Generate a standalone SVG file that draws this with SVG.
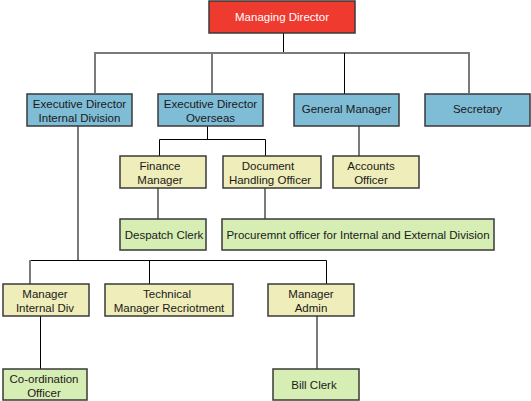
<svg xmlns="http://www.w3.org/2000/svg" width="531" height="401" viewBox="0 0 531 401">
<style>
rect{stroke:#3a3a3a;stroke-width:1.5}
.red{fill:#ee3a2f}
.blue{fill:#7fbcd6}
.yel{fill:#efedb9}
.grn{fill:#d6edb3}
text{font-family:"Liberation Sans",Arial,sans-serif;font-size:11.5px;fill:#1a1a1a;text-anchor:middle}
.w{fill:#ffffff}
.g{stroke:#7a7a7a;stroke-width:2;fill:none}
.k{stroke:#000;stroke-width:1;fill:none}
</style>
<rect x="0" y="0" width="531" height="401" style="fill:#fff;stroke:none"/>
<g id="connectors">
<path class="k" d="M283.5 33V53"/>
<path class="g" d="M95 93V53H469V93M212 53V93"/>
<path class="k" d="M344.5 53V94"/>
<path class="g" d="M78 126V260"/>
<path class="k" d="M207.5 126V139.5M159.5 156V139.5H265.5V156"/>
<path class="g" d="M359 126V156"/>
<path class="g" d="M158 188V219"/>
<path class="g" d="M265 188V219"/>
<path class="k" d="M30 260.5H326.5V284M149.5 260.5V284"/>
<path class="g" d="M30 260V284"/>
<path class="k" d="M40.5 316V369"/>
<path class="g" d="M317 316V369"/>
</g>
<g id="managing-director"><rect class="red" x="209" y="1" width="146" height="32"/><text class="w" x="282" y="21">Managing Director</text></g>
<g id="ed-internal"><rect class="blue" x="27" y="94" width="105" height="32"/><text x="79.5" y="107.5">Executive Director</text><text x="79.5" y="121.5">Internal Division</text></g>
<g id="ed-overseas"><rect class="blue" x="158" y="94" width="105" height="32"/><text x="210.5" y="107.5">Executive Director</text><text x="210.5" y="121.5">Overseas</text></g>
<g id="general-manager"><rect class="blue" x="294" y="94" width="105" height="32"/><text x="346.5" y="113">General Manager</text></g>
<g id="secretary"><rect class="blue" x="425" y="94" width="105" height="32"/><text x="477.5" y="113">Secretary</text></g>
<g id="finance-manager"><rect class="yel" x="120" y="156" width="86" height="32"/><text x="160" y="169.5">Finance</text><text x="160" y="183.5">Manager</text></g>
<g id="document-handling"><rect class="yel" x="223" y="156" width="98" height="32"/><text x="268" y="169.5">Document</text><text x="270" y="183.5">Handling Officer</text></g>
<g id="accounts-officer"><rect class="yel" x="333" y="156" width="86" height="32"/><text x="371" y="169.5">Accounts</text><text x="371" y="183.5">Officer</text></g>
<g id="despatch-clerk"><rect class="grn" x="120" y="219" width="86" height="31"/><text x="164" y="238.5">Despatch Clerk</text></g>
<g id="procurement"><rect class="grn" x="222" y="219" width="272" height="31"/><text x="358" y="239">Procuremnt officer for Internal and External Division</text></g>
<g id="manager-internal-div"><rect class="yel" x="3" y="284" width="86" height="32"/><text x="45" y="297.5">Manager</text><text x="45" y="311.5">Internal Div</text></g>
<g id="technical-manager"><rect class="yel" x="105" y="284" width="128" height="32"/><text x="167" y="297.5">Technical</text><text x="169" y="311.5">Manager Recriotment</text></g>
<g id="manager-admin"><rect class="yel" x="268" y="284" width="86" height="32"/><text x="311" y="297.5">Manager</text><text x="311" y="311.5">Admin</text></g>
<g id="coordination-officer"><rect class="grn" x="3" y="369" width="84" height="31"/><text x="44" y="382.5">Co-ordination</text><text x="44" y="396.5">Officer</text></g>
<g id="bill-clerk"><rect class="grn" x="273" y="369" width="86" height="31"/><text x="314" y="388.5">Bill  Clerk</text></g>
</svg>
